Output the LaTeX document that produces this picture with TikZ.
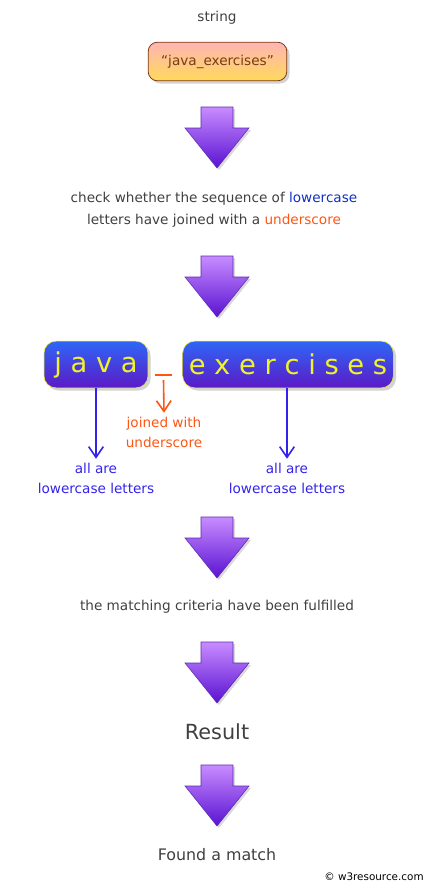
\documentclass[tikz,border=0pt]{standalone}
\usepackage{fontspec}
\setmainfont{DejaVu Sans}
\usetikzlibrary{shadows,arrows.meta}
\definecolor{txtgray}{HTML}{404040}
\definecolor{lowblue}{HTML}{1030C0}
\definecolor{uscorange}{HTML}{FF5511}
\definecolor{notebl}{HTML}{3322EE}
\definecolor{boxpink}{HTML}{FFB4B4}
\definecolor{boxyellow}{HTML}{FFDA5A}
\definecolor{boxbrown}{HTML}{7A3A12}
\definecolor{wordtop}{HTML}{2E66F6}
\definecolor{wordbot}{HTML}{5C1AC6}
\definecolor{wordyellow}{HTML}{F2F22A}
\definecolor{arrowtop}{HTML}{C88CFF}
\definecolor{arrowbot}{HTML}{5A12D2}
\definecolor{arrowedge}{HTML}{5A2AB0}
\begin{document}
\begin{tikzpicture}[x=0.75pt,y=-0.75pt,inner sep=0pt,outer sep=0pt,very thick,
txt/.style={font=\fontsize{10.2}{16.5}\selectfont,text=txtgray,align=center},
note/.style={font=\fontsize{10.2}{15}\selectfont,align=center,inner sep=3pt},
strbox/.style={draw=boxbrown,semithick,rounded corners=7pt,top color=boxpink,bottom color=boxyellow,minimum width=104pt,minimum height=29pt,text=boxbrown,font=\fontsize{10.2}{12}\selectfont,drop shadow={opacity=0.35,shadow xshift=2pt,shadow yshift=-2pt}},
wordbox/.style={draw=wordyellow,thin,rounded corners=9pt,top color=wordtop,bottom color=wordbot,minimum height=35pt,text=wordyellow,font=\fontsize{20.5}{24}\selectfont,drop shadow={opacity=0.35,shadow xshift=2pt,shadow yshift=-2pt}},
bigarrow/.style={draw=arrowedge,thin,top color=arrowtop,bottom color=arrowbot,drop shadow={opacity=0.3,shadow xshift=1.5pt,shadow yshift=-1.5pt}},
>={Straight Barb[length=8pt,width=11pt]}]

\useasboundingbox (0,0) rectangle (435,894);

\draw (217,18) node[txt] (str) {string};
\draw (217.5,61.5) node[strbox] (strval) {“java\_exercises”};

% down arrows between the steps
\foreach \t in {107,256,517,642,765}
  \path[bigarrow] (201,\t) -- (233,\t) -- (233,\t+21) -- (249,\t+21) -- (217,\t+61) -- (185,\t+21) -- (201,\t+21) -- cycle;

\draw (214,210) node[txt] (check) {check whether the sequence of \textcolor{lowblue}{lowercase}\\letters have joined with a \textcolor{uscorange}{underscore}};

\draw (96,364.5) node[wordbox,minimum width=78pt] (java) {j a v a};
\draw (288,364.5) node[wordbox,minimum width=158pt] (exer) {e x e r c i s e s};
\draw (163.5,375) node[fill=uscorange,minimum width=13pt,minimum height=1.5pt] (dash) {};

\draw (164,432) node[note,text=uscorange] (joined) {joined with\\underscore};
\draw (96,478) node[note,text=notebl] (javanote) {all are\\lowercase letters};
\draw (287,478) node[note,text=notebl] (exernote) {all are\\lowercase letters};
\draw[->,uscorange] (dash.south) ++(0,4) -- (joined.north);
\draw[->,notebl] (java.south) -- (javanote.north);
\draw[->,notebl] (exer.south -| exernote.north) -- (exernote.north);

\draw (217,607) node[txt] (crit) {the matching criteria have been fulfilled};
\draw (217,732) node[txt,font=\fontsize{15.6}{18}\selectfont] (res) {Result};
\draw (217,855) node[txt,font=\fontsize{11.9}{14}\selectfont] (found) {Found a match};
\draw (374,877) node[font=\fontsize{7.8}{9}\selectfont] (copy) {© w3resource.com};
\end{tikzpicture}
\end{document}
